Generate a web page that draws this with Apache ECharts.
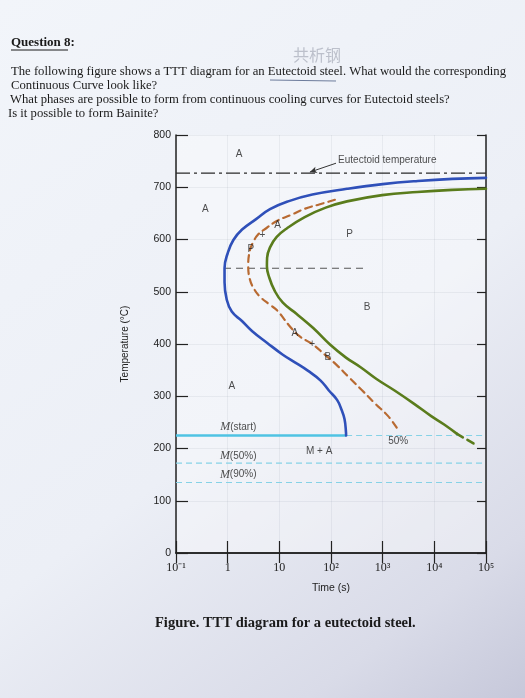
<!DOCTYPE html>
<html><head><meta charset="utf-8">
<script src="https://cdn.jsdelivr.net/npm/echarts@6/dist/echarts.min.js"></script>
<style>html,body{margin:0;padding:0;background:#eef1f6;}#c{width:525px;height:698px;}</style>
</head><body><div id="c"></div>
<script>
// ---- data (time in seconds, temperature in °C) ----
const xTickLabels = {'-1':'10⁻¹','0':'1','1':'10','2':'10²','3':'10³','4':'10⁴','5':'10⁵'};
// transformation start (blue)
const startTime = [100000,22400,4790,1000,204,43.6,14.8,6.6,3.55,1.9,1.29,1.01,0.87,0.87,0.955,1.2,1.89,2.95,5.83,11.5,20,35.5,63,91,131,160,183,195,196];
const startTemp = [718,716,712,706,697,686,673,658,639,619,599,575,545,518,486,462,444,425,402,380,365,349,330,311,293,274,256,231,225];
// transformation finish (green)
const finishTime = [100000,22100,4680,977,204,79,31,14.3,8.9,6.6,5.8,5.75,6.3,8.1,11.7,21.4,44.7,95.5,195,380,760,1700,4000,8700,15500,27500];
const finishTemp = [697,695,691,685,673,661,643,622,605,585,565,549,529,502,479,458,431,399,374,355,333,311,286,262,246,228];
const finishTailTime = [27500,66000];
const finishTailTemp = [228,206];
// 50% transformation (dashed orange)
const halfTime = [119,59,31.6,16.8,9.1,5.66,3.84,3.05,2.69,2.5,2.67,3.26,4.38,6.4,9.3,15.6,24.5,44.7,75,125,224,403,713,1276,1950];
const halfTemp = [676,667,659,647,636,622,609,593,579,552,525,505,489,476,463,435,415,399,380,361,336,311,286,262,237];
const eutectoidTemp = 727;
const noseLineTime = [0.85,430];
const noseLineTemp = 545;
const mStartTemp = 225;
const mStartEndTime = 196;
const m50Temp = 172;
const m90Temp = 135;
const timeMin = 0.1, timeMax = 100000;
const annoText = ['A','A','P','+','A','P','B','A','+','B','A','M(start)','M + A','50%','M(50%)','M(90%)','Eutectoid temperature'];
const annoTime = [1.66,0.37,2.8,4.7,9.2,229,500,20,43,87,1.2,1.6,59,2000,1.6,1.6,137];
const annoTemp = [764,657,582,608,628,611,470,420,400,374,319,241,195,213,186,150,751];
const arrowFrom = [125,746];
const arrowTo = [39,729];

const zip = (a,b) => a.map((v,i)=>[v,b[i]]);
const chart = echarts.init(document.getElementById('c'), null, {renderer:'canvas'});
const SANS = '"Liberation Sans", Arial, sans-serif';
const SERIF = '"Liberation Serif", "Times New Roman", serif';

const hLine = (name, t0, t1, temp, style) => ({
  type:'line', name, data:[[t0,temp],[t1,temp]], symbol:'none', silent:true,
  lineStyle: style, z:2
});

const annoData = annoText.map((t,i)=>{
  const item = {value:[annoTime[i], annoTemp[i], t]};
  if (t === 'Eutectoid temperature') item.label = {align:'left'};
  return item;
});

const curve = (name, data, color, width, type) => ({
  type:'line', name, data, smooth:0.45, symbol:'none', silent:true,
  lineStyle:{color, width, type, cap:'round', join:'round'}, z:3
});

const option = {
  backgroundColor: new echarts.graphic.LinearGradient(0,0,1,1,[
    {offset:0,color:'#f2f5fa'},{offset:0.55,color:'#eceff6'},{offset:0.85,color:'#d9dbe8'},{offset:1,color:'#c6c8da'}]),
  animation:false,
  grid:{left:176, top:135, width:310, height:418, show:true, backgroundColor:'rgba(255,255,255,0.35)', borderWidth:0},
  xAxis:[
    {type:'log', logBase:10, min:timeMin, max:timeMax, splitNumber:6, position:'bottom',
     axisLine:{show:true, lineStyle:{color:'#222', width:1.5}},
     axisTick:{show:true, inside:true, length:12, lineStyle:{color:'#222', width:1.2}},
     minorTick:{show:false},
     axisLabel:{color:'#222', fontFamily:SERIF, fontSize:12, margin:9,
       formatter:v=>xTickLabels[String(Math.round(Math.log10(v)))]||''},
     splitLine:{show:true, lineStyle:{color:'rgba(120,130,150,0.10)', width:1}},
     name:'Time (s)', nameLocation:'middle', nameGap:30,
     nameTextStyle:{color:'#222', fontFamily:SANS, fontSize:10.5}},
    {type:'log', logBase:10, min:timeMin, max:timeMax, splitNumber:6, position:'top',
     axisLine:{show:true, lineStyle:{color:'#222', width:1.5}},
     axisTick:{show:true, inside:true, length:10, lineStyle:{color:'#222', width:1.2}},
     axisLabel:{show:false}, splitLine:{show:false}, minorTick:{show:false}}
  ],
  yAxis:[
    {type:'value', min:0, max:800, interval:100, position:'left',
     axisLine:{show:true, lineStyle:{color:'#222', width:1.5}},
     axisTick:{show:true, inside:true, length:12, lineStyle:{color:'#222', width:1.2}},
     axisLabel:{color:'#222', fontFamily:SANS, fontSize:10.5, margin:5},
     splitLine:{show:true, lineStyle:{color:'rgba(120,130,150,0.10)', width:1}},
     name:'Temperature (°C)', nameLocation:'middle', nameGap:46, nameRotate:90,
     nameTextStyle:{color:'#222', fontFamily:SANS, fontSize:10}},
    {type:'value', min:0, max:800, interval:100, position:'right',
     axisLine:{show:true, lineStyle:{color:'#222', width:1.5}},
     axisTick:{show:true, inside:true, length:9, lineStyle:{color:'#222', width:1.2}},
     axisLabel:{show:false}, splitLine:{show:false}}
  ],
  series:[
    hLine('eutectoid', timeMin, timeMax, eutectoidTemp, {color:'#2a2a2a', width:1.2, type:[14,4,3,4]}),
    hLine('nose', noseLineTime[0], noseLineTime[1], noseLineTemp, {color:'#555', width:1.1, type:[7,5]}),
    hLine('Mstart', timeMin, mStartEndTime, mStartTemp, {color:'#4fc3e3', width:2.6, type:'solid'}),
    hLine('MstartExt', mStartEndTime, timeMax, mStartTemp, {color:'#86d2e6', width:1.1, type:[6,4]}),
    hLine('M50', timeMin, timeMax, m50Temp, {color:'#86d2e6', width:1.1, type:[6,4]}),
    hLine('M90', timeMin, timeMax, m90Temp, {color:'#86d2e6', width:1.1, type:[6,4]}),
    curve('start', zip(startTime,startTemp), '#2f50b9', 2.6, 'solid'),
    curve('finish', zip(finishTime,finishTemp), '#5a7c1c', 2.6, 'solid'),
    curve('finishTail', zip(finishTailTime,finishTailTemp), '#5a7c1c', 2.6, [7,5]),
    Object.assign(curve('half', zip(halfTime,halfTemp), '#b86a32', 2.2, [7,5]), {
     markLine:{silent:true, symbol:['none','arrow'], symbolSize:[5,7],
       label:{show:false}, lineStyle:{color:'#333', width:1, type:'solid', curveness:0.15},
       data:[[{coord:arrowFrom},{coord:arrowTo}]]}}),
    {type:'scatter', name:'labels', data:annoData, symbolSize:0, silent:true, z:5,
     label:{show:true, position:'inside', color:'#222', fontFamily:SANS, fontSize:10,
       formatter:p=>{const t=p.value[2]; return t.startsWith('M(') ? '{i|M}'+t.slice(1) : t;},
       rich:{i:{fontStyle:'italic', fontFamily:SERIF, fontSize:12, color:'#222'}}}}
  ],
  graphic:[
    {type:'text', x:11, y:43, style:{text:'Question 8:', font:'bold 13px '+SERIF, fill:'#1a1a1a', verticalAlign:'middle'}},
    {type:'line', shape:{x1:11,y1:50,x2:68,y2:50}, style:{stroke:'#1a1a1a', lineWidth:1}},
    {type:'text', x:293, y:55, style:{text:'共析钢', font:'16px "Noto Sans CJK SC"', fill:'#bcc0cb', verticalAlign:'middle'}},
    {type:'text', x:11, y:72, style:{text:'The following figure shows a TTT diagram for an Eutectoid steel. What would the corresponding', font:'12.7px '+SERIF, fill:'#1a1a1a', verticalAlign:'middle'}},
    {type:'line', shape:{x1:270,y1:80,x2:336,y2:81}, style:{stroke:'#6d7c9c', lineWidth:1}},
    {type:'text', x:11, y:86, style:{text:'Continuous Curve look like?', font:'12.7px '+SERIF, fill:'#1a1a1a', verticalAlign:'middle'}},
    {type:'text', x:10, y:100, style:{text:'What phases are possible to form from continuous cooling curves for Eutectoid steels?', font:'12.7px '+SERIF, fill:'#1a1a1a', verticalAlign:'middle'}},
    {type:'text', x:8, y:114, style:{text:'Is it possible to form Bainite?', font:'12.7px '+SERIF, fill:'#1a1a1a', verticalAlign:'middle'}},
    {type:'text', x:155, y:623, style:{text:'Figure. TTT diagram for a eutectoid steel.', font:'bold 14.5px '+SERIF, fill:'#1a1a1a', verticalAlign:'middle'}}
  ]
};
chart.setOption(option);
</script></body></html>
